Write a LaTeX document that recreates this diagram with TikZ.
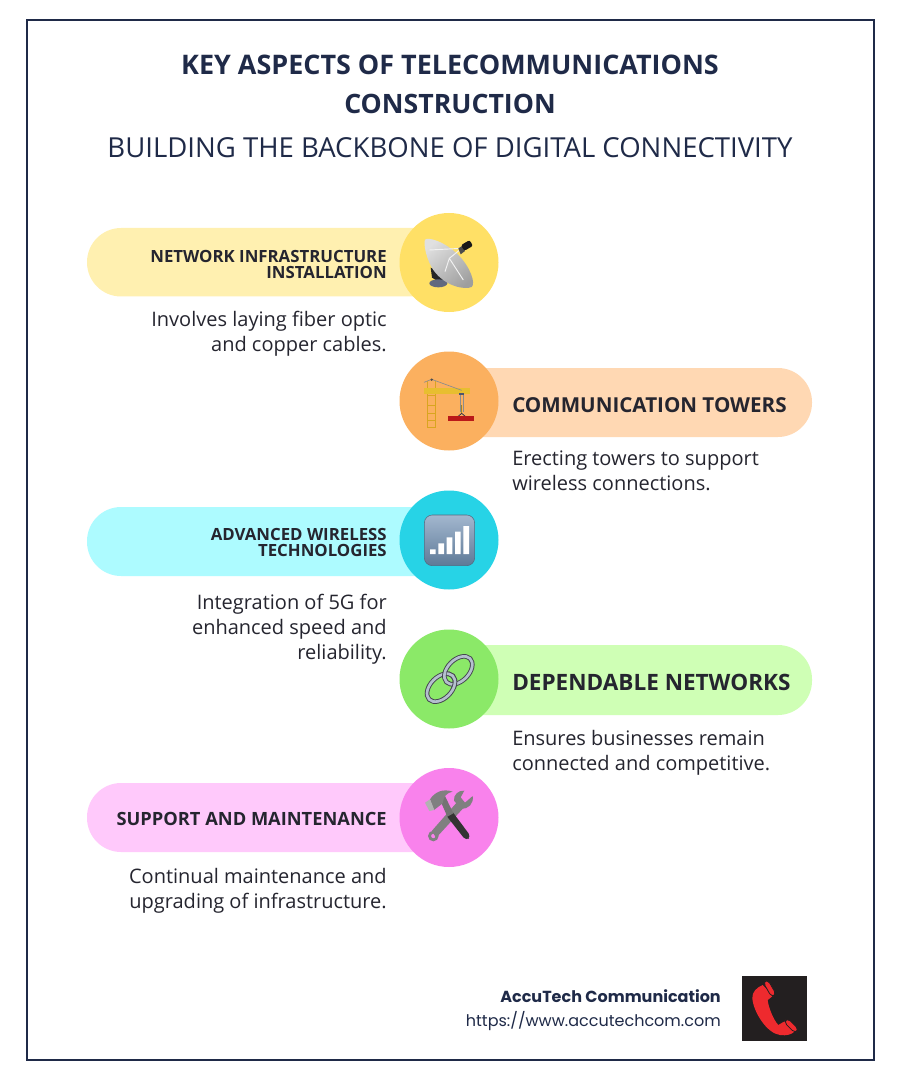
\documentclass[tikz,border=0pt]{standalone}
\usepackage{fontspec}
\setmainfont{Open Sans}
\newfontfamily\footfont{Poppins}
\definecolor{navy}{HTML}{1F2A48}
\definecolor{ink}{HTML}{25252F}
\definecolor{p1}{HTML}{FFF0B0}\definecolor{c1}{HTML}{FFE066}
\definecolor{p2}{HTML}{FFD8B3}\definecolor{c2}{HTML}{FBB05F}
\definecolor{p3}{HTML}{ADFBFF}\definecolor{c3}{HTML}{27D3E6}
\definecolor{p4}{HTML}{CFFFB5}\definecolor{c4}{HTML}{8BE968}
\definecolor{p5}{HTML}{FFC9FB}\definecolor{c5}{HTML}{F982EC}
\definecolor{crane}{HTML}{E8BE30}
\definecolor{tower}{HTML}{D9A520}
\definecolor{phone}{HTML}{EE2A2E}
\definecolor{logo}{HTML}{231F20}
\definecolor{sigtop}{HTML}{A3B7CF}
\definecolor{sigbot}{HTML}{5E7A97}
\definecolor{sigedge}{HTML}{55697F}
\definecolor{ringout}{HTML}{454550}
\definecolor{ringin}{HTML}{B4C0CE}
\newcommand{\fsz}[2]{\fontsize{#1pt}{#2pt}\selectfont}
\tikzset{
 x=0.75pt,y=-0.75pt,
 zoomed/.style={shift={(#1)},xscale=1/3,yscale=1/3},
 lefttxt/.style={anchor=east,align=right,inner sep=0pt,text=ink},
 righttxt/.style={anchor=west,align=left,inner sep=0pt,text=ink},
 titletxt/.style={anchor=center,align=center,inner sep=0pt,text=navy},
 bodytxt/.style={font=\fsz{15}{18.9}},
 smallhead/.style={font=\fsz{12.6}{12}\bfseries},
 pill/.style={rounded corners=25.6pt},
 ringdark/.style={ringout,line width=3.4pt},
 ringlight/.style={ringin,line width=2.0pt},
}
\begin{document}
\begin{tikzpicture}
\useasboundingbox (0,0) rectangle (900,1080);
\fill[white] (0,0) rectangle (900,1080);
\draw[navy,line width=1.5pt] (27,20) rectangle (874,1060);
% titles
\node[titletxt,font=\fsz{20.2}{24}\bfseries] (title1) at (450,64.5) {KEY ASPECTS OF TELECOMMUNICATIONS};
\node[titletxt,font=\fsz{20}{24}\bfseries] (title2) at (450,103.5) {CONSTRUCTION};
\node[titletxt,font=\fsz{20.65}{24}] (subtitle) at (450,147.5) {BUILDING THE BACKBONE OF DIGITAL CONNECTIVITY};
% pills
\fill[p1,pill] (87,228) rectangle (449,296.5);
\fill[p2,pill] (449,368) rectangle (812,437);
\fill[p3,pill] (87,507) rectangle (449,576);
\fill[p4,pill] (449,645) rectangle (812,715);
\fill[p5,pill] (87,783) rectangle (449,852);
\fill[c1] (449,262.5) circle (49.5);
\fill[c2] (449,401) circle (49.5);
\fill[c3] (449,540) circle (49.5);
\fill[c4] (449,679) circle (49.5);
\fill[c5] (449,817.5) circle (49.5);
% icon 1 dish
\begin{scope}[zoomed={390,205}]
\fill[black!85] (122,188) -- (150,200) -- (168,222) -- (150,232) -- (126,218) -- cycle;
\fill[black!85] (142,222) rectangle (148,235);
\fill[navy!70] (145,235) ellipse (27 and 12);
\shade[top color=black!12,bottom color=black!38,shading angle=40] (105,104) .. controls (115,95) and (165,110) .. (205,150) .. controls (240,185) and (258,235) .. (245,246) .. controls (225,255) and (165,245) .. (130,195) .. controls (110,165) and (100,120) .. (105,104) -- cycle;
\draw[black!5,line width=0.7pt] (118,135) -- (215,130) (215,130) -- (178,160) -- (165,200) (178,160) -- (220,225);
\fill[black!70] (205,130) -- (218,122) -- (225,138) -- (212,148) -- cycle;
\fill[black!90,rotate around={30:(230,122)},rounded corners=1.5pt] (216,112) rectangle (246,132);
\end{scope}
% icon 2 crane
\begin{scope}[zoomed={390,345}]
\draw[tower,line width=0.7pt] (113,108) -- (113,248) (137,108) -- (137,248)
  (113,150) -- (137,150) (113,180) -- (137,180) (113,205) -- (137,205) (113,225) -- (137,225) (113,248) -- (137,248);
\fill[crane] (102,128) rectangle (240,146);
\draw[black!45,line width=0.5pt] (102,112) -- (125,103) -- (215,136);
\fill[black!70] (125,104) circle (4);
\draw[black!45,line width=0.5pt] (211,146) -- (211,200) (219,146) -- (219,200);
\fill[navy!80] (208,143) rectangle (222,149);
\draw[crane!70!black,line width=0.8pt] (215,180) -- (215,205);
\draw[navy,line width=0.5pt] (215,205) -- (190,226) (215,205) -- (240,226);
\fill[red!70!black!90] (175,213) rectangle (253,227);
\end{scope}
% icon 3 signal
\begin{scope}[zoomed={390,485}]
\shade[top color=sigtop,bottom color=sigbot,rounded corners=6pt,draw=sigedge] (103,90) rectangle (254,242);
\fill[white] (120,193) rectangle (137,207) (145,175) rectangle (162,207) (170,157) rectangle (187,207) (195,140) rectangle (212,207) (220,123) rectangle (237,207);
\end{scope}
% icon 4 links
\begin{scope}[zoomed={390,625}]
\draw[ringdark,rotate around={45:(153,188)}] (153,188) ellipse (50 and 32);
\draw[ringlight,rotate around={45:(153,188)}] (153,188) ellipse (50 and 32);
\draw[ringdark,rotate around={45:(205,136)}] (205,136) ellipse (50 and 32);
\draw[ringlight,rotate around={45:(205,136)}] (205,136) ellipse (50 and 32);
\begin{scope}
\clip (170,130) rectangle (210,190);
\draw[ringdark,rotate around={45:(153,188)}] (153,188) ellipse (50 and 32);
\draw[ringlight,rotate around={45:(153,188)}] (153,188) ellipse (50 and 32);
\end{scope}
\end{scope}
% icon 5 tools
\begin{scope}[zoomed={390,760}]
\fill[black!50] (126,212) -- (138,234) -- (222,142) -- (205,122) -- cycle;
\fill[black!50,even odd rule] (130,228) circle (16) (130,228) circle (7);
\fill[black!50] (192,122) .. controls (190,105) and (205,90) .. (223,92) -- (212,112) -- (225,128) -- (248,108) .. controls (252,130) and (235,150) .. (212,145) -- cycle;
\fill[black!80,rounded corners=3pt] (166,163) -- (182,148) -- (243,230) -- (228,242) -- cycle;
\fill[black!55] (148,115) -- (165,108) -- (190,160) -- (172,170) -- cycle;
\fill[black!50] (120,118) .. controls (135,95) and (160,85) .. (188,95) .. controls (170,98) and (160,110) .. (158,130) -- (132,150) -- cycle;
\fill[black!30] (105,128) -- (120,118) -- (133,150) -- (118,153) -- cycle;
\end{scope}
% texts
\node[lefttxt,smallhead] (h1) at (387,264) {NETWORK INFRASTRUCTURE\\ INSTALLATION};
\node[lefttxt,bodytxt] (b1) at (387,334) {Involves laying fiber optic\\ and copper cables.};
\node[righttxt,font=\fsz{15.45}{18}\bfseries] (h2) at (512,405) {COMMUNICATION TOWERS};
\node[righttxt,bodytxt] (b2) at (512,471) {Erecting towers to support\\ wireless connections.};
\node[lefttxt,smallhead] (h3) at (387,542) {ADVANCED WIRELESS\\ TECHNOLOGIES};
\node[lefttxt,bodytxt] (b3) at (387,629.5) {Integration of 5G for\\ enhanced speed and\\ reliability.};
\node[righttxt,font=\fsz{16.9}{18}\bfseries] (h4) at (512,682) {DEPENDABLE NETWORKS};
\node[righttxt,bodytxt] (b4) at (512,753) {Ensures businesses remain\\ connected and competitive.};
\node[lefttxt,font=\fsz{13.7}{16}\bfseries] (h5) at (387,819) {SUPPORT AND MAINTENANCE};
\node[lefttxt,bodytxt] (b5) at (387,891) {Continual maintenance and\\ upgrading of infrastructure.};
% footer
\node[lefttxt,text=navy,font=\footfont\fsz{12}{14}\bfseries] (foot1) at (721,996) {AccuTech Communication};
\node[lefttxt,text=navy,font=\footfont\fsz{12}{14}] (foot2) at (721,1021) {https://www.accutechcom.com};
% phone logo
\begin{scope}[zoomed={730,965}]
\fill[logo] (37,34) rectangle (231,228);
\fill[phone] (98,60) .. controls (80,68) and (66,80) .. (67,100) .. controls (70,140) and (110,205) .. (150,210) .. controls (170,213) and (185,208) .. (193,200) -- (165,168) -- (145,180) .. controls (130,165) and (115,125) .. (113,105) -- (130,92) -- cycle;
\fill[phone,draw=logo,line width=0.6pt,rotate around={30:(119,70)},rounded corners=3pt] (111,44) rectangle (127,96);
\fill[phone,draw=logo,line width=0.6pt,rotate around={45:(184,182)},rounded corners=3pt] (176,158) rectangle (192,206);
\end{scope}
\end{tikzpicture}
\end{document}
